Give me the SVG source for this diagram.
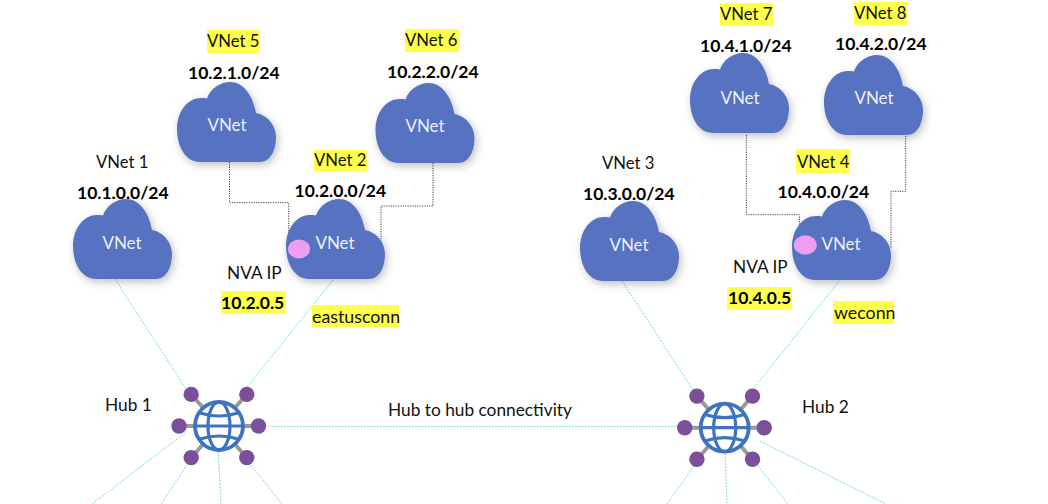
<svg xmlns="http://www.w3.org/2000/svg" width="1048" height="504" viewBox="0 0 1048 504">
<style>
text{font-family:Lato,"Liberation Sans",sans-serif;font-size:17.3px;fill:#111}
.b{font-weight:700;font-size:17.5px;fill:#000}
.c{fill:#fff;text-anchor:middle;font-size:17px;fill-opacity:.92}
.l{font-size:17.8px}
.v{font-size:16.7px}
.y{fill:#ffff4d}
.cloud{fill:#5772c1;filter:url(#sh)}
.nva{fill:#ee9ef2}
.hub{stroke:#35cdb9;stroke-width:.9;stroke-dasharray:2 1.2;fill:none;opacity:.75}
.peer{stroke:#444;stroke-width:1;stroke-dasharray:1.2 1.2;fill:none}
.spoke{stroke:#999;stroke-width:4}
.sat{fill:#7b4f9a}
.g{fill:none;stroke:#3e73c2;stroke-width:3.2}
</style>
<defs>
<filter id="sh" x="-20%" y="-20%" width="150%" height="150%"><feDropShadow dx="2" dy="3" stdDeviation="4" flood-color="#000" flood-opacity=".25"/></filter>
<path id="cl" d="M23 80C9 80 0 65 0 47C0 29 11 16 24 16C26 16 28 16 30 16.500C33 7 43 0 53 0C66 0 76 13 79 31C90 33 99 43 99 55C99 69 93 80 83 80Z"/>
<g id="hb">
<path class="spoke" d="M-28-32L28 32M28-32L-28 32M-40 0H40"/>
<circle class="sat" cx="-27.8" cy="-31.6" r="7.7"/><circle class="sat" cx="27.8" cy="-31.6" r="7.7"/><circle class="sat" cx="-40" cy="0" r="7.7"/><circle class="sat" cx="39.5" cy="0" r="7.7"/><circle class="sat" cx="-27.8" cy="31.6" r="7.7"/><circle class="sat" cx="27.8" cy="31.6" r="7.7"/>
<circle r="24" fill="#fff" stroke="#3e73c2" stroke-width="3.800"/>
<ellipse class="g" rx="11" ry="24"/>
<path class="g" d="M-24 0H24M-19-13Q0-7 19-13M-19 13Q0 7 19 13"/>
</g>
</defs>
<g id="connectors">
<path class="hub" d="M115 279L188 392M333 280L243 392M268 426.300H677M185 433L92 504M189 462L161 504M218 448L221 504M243 455L282 504M622 281L695 393M839 281L750 393M696 463L667 504M725 450L727 504M750 456L788 504M760 441L886 504"/>
<path class="peer" d="M229.500 162V202.700H288.700V232M433 163V206H381V250M746.400 135V214.700H799.400V231M905.700 136V191.300H891V248"/>
</g>
<g id="hub1"><use href="#hb" x="219" y="426"/><text x="105" y="411">Hub 1</text></g>
<g id="hub2"><use href="#hb" x="724.700" y="427.700"/><text x="802" y="413">Hub 2</text></g>
<text id="hubs-label" x="388" y="416">Hub to hub connectivity</text>
<g id="vnet1"><use href="#cl" class="cloud" x="73" y="199"/><text class="c" x="122" y="249">VNet</text><text class="v" x="96" y="168">VNet 1</text><text class="b" x="77" y="199">10.1.0.0/24</text></g>
<g id="vnet2"><use href="#cl" class="cloud" x="286" y="199"/><ellipse class="nva" cx="299" cy="249" rx="11" ry="9.500"/><text class="c" x="335" y="249">VNet</text><rect class="y" x="314" y="150" width="53" height="21"/><text class="v" x="314" y="166">VNet 2</text><text class="b" x="294.500" y="197">10.2.0.0/24</text><text x="227" y="279">NVA IP</text><rect class="y" x="221" y="291" width="65" height="23"/><text class="b" x="221" y="309">10.2.0.5</text><rect class="y" x="312" y="305" width="87" height="22"/><text class="l" x="312" y="323">eastusconn</text></g>
<g id="vnet3"><use href="#cl" class="cloud" x="580" y="201"/><text class="c" x="629" y="251">VNet</text><text class="v" x="602" y="169">VNet 3</text><text class="b" x="583" y="200">10.3.0.0/24</text></g>
<g id="vnet4"><use href="#cl" class="cloud" x="792" y="200"/><ellipse class="nva" cx="805.300" cy="245" rx="11.500" ry="9.700"/><text class="c" x="841" y="250">VNet</text><rect class="y" x="796" y="149" width="54" height="24"/><text class="v" x="797" y="168">VNet 4</text><text class="b" x="777.500" y="198">10.4.0.0/24</text><text x="733" y="273">NVA IP</text><rect class="y" x="727" y="287" width="65" height="23"/><text class="b" x="728" y="304">10.4.0.5</text><rect class="y" x="833" y="301" width="61" height="23"/><text class="l" x="834" y="319">weconn</text></g>
<g id="vnet5"><use href="#cl" class="cloud" x="177" y="82"/><text class="c" x="227" y="131">VNet</text><rect class="y" x="207" y="30" width="53" height="23"/><text class="v" x="207" y="47">VNet 5</text><text class="b" x="188" y="79">10.2.1.0/24</text></g>
<g id="vnet6"><use href="#cl" class="cloud" x="375.500" y="83"/><text class="c" x="425" y="132">VNet</text><rect class="y" x="405" y="29" width="54" height="23"/><text class="v" x="405" y="46">VNet 6</text><text class="b" x="387" y="78">10.2.2.0/24</text></g>
<g id="vnet7"><use href="#cl" class="cloud" x="690" y="53"/><text class="c" x="740" y="104">VNet</text><rect class="y" x="720" y="3" width="53" height="23"/><text class="v" x="720" y="20">VNet 7</text><text class="b" x="700" y="52">10.4.1.0/24</text></g>
<g id="vnet8"><use href="#cl" class="cloud" x="824" y="55"/><text class="c" x="874" y="104">VNet</text><rect class="y" x="854" y="2" width="53" height="23"/><text class="v" x="854" y="19">VNet 8</text><text class="b" x="835" y="50">10.4.2.0/24</text></g>
</svg>
